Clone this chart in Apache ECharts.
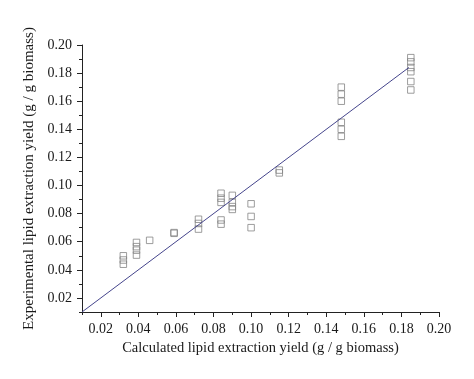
<!DOCTYPE html>
<html>
<head>
<meta charset="utf-8">
<script src="https://cdn.jsdelivr.net/npm/echarts@6/dist/echarts.min.js"></script>
<style>
html,body{margin:0;padding:0;background:#fff;}
#chart{width:474px;height:379px;}
</style>
</head>
<body>
<div id="chart"></div>
<script>
// Tick labels (positions 0.01 ... 0.20, every other one shown)
var tickLabels = ['0.01','0.02','0.03','0.04','0.05','0.06','0.07','0.08','0.09','0.10',
                  '0.11','0.12','0.13','0.14','0.15','0.16','0.17','0.18','0.19','0.20'];

// Calculated (x) vs experimental (y) lipid extraction yield
var calculated = [
  0.032, 0.032, 0.032,
  0.039, 0.039, 0.039, 0.039,
  0.046,
  0.059, 0.059,
  0.072, 0.072, 0.072,
  0.084, 0.084, 0.084, 0.084, 0.084,
  0.090, 0.090, 0.090, 0.090,
  0.100, 0.100, 0.100,
  0.115, 0.115,
  0.148, 0.148, 0.148, 0.148, 0.148, 0.148,
  0.185, 0.185, 0.185, 0.185, 0.185, 0.185
];
var experimental = [
  0.050, 0.047, 0.044,
  0.0595, 0.0565, 0.054, 0.0505,
  0.061,
  0.0665, 0.066,
  0.076, 0.073, 0.069,
  0.0945, 0.091, 0.088, 0.0755, 0.0725,
  0.093, 0.088, 0.085, 0.083,
  0.087, 0.078, 0.070,
  0.111, 0.109,
  0.170, 0.165, 0.160, 0.145, 0.140, 0.135,
  0.191, 0.188, 0.184, 0.181, 0.174, 0.168
];
// Fitted line end points
var fitX = [0.01, 0.184];
var fitY = [0.01, 0.184];

var scatterData = calculated.map(function (x, i) { return [x, experimental[i]]; });
var lineData = fitX.map(function (x, i) { return [x, fitY[i]]; });

var FONT = '"Liberation Serif", "DejaVu Serif", serif';
var showEven = function (i) { return i % 2 === 1; };

var chart = echarts.init(document.getElementById('chart'), null, {renderer: 'canvas'});
chart.setOption({
  backgroundColor: '#ffffff',
  animation: false,
  grid: {left: 82, right: 35, top: 45, bottom: 67, containLabel: false},
  xAxis: [{
    type: 'value', min: 0.01, max: 0.20, interval: 0.01,
    name: 'Calculated lipid extraction yield (g / g biomass)',
    nameLocation: 'middle', nameGap: 29,
    nameTextStyle: {fontFamily: FONT, fontSize: 14.5, color: '#1a1a1a'},
    axisLine: {show: true, lineStyle: {color: '#222', width: 1}},
    axisTick: {show: true, length: 3, lineStyle: {color: '#222'}},
    axisLabel: {show: false},
    splitLine: {show: false}
  }, {
    type: 'category', data: tickLabels, boundaryGap: false, position: 'bottom',
    axisLine: {show: false},
    axisTick: {show: true, interval: showEven, length: 5, lineStyle: {color: '#222'}},
    axisLabel: {interval: showEven, margin: 10, fontFamily: FONT, fontSize: 14, color: '#1a1a1a'},
    splitLine: {show: false}
  }],
  yAxis: [{
    type: 'value', min: 0.01, max: 0.20, interval: 0.01,
    name: 'Experimental lipid extraction yield (g / g biomass)',
    nameLocation: 'middle', nameGap: 45,
    nameTextStyle: {fontFamily: FONT, fontSize: 15, color: '#1a1a1a'},
    axisLine: {show: true, lineStyle: {color: '#222', width: 1}},
    axisTick: {show: true, length: 3, lineStyle: {color: '#222'}},
    axisLabel: {show: false},
    splitLine: {show: false}
  }, {
    type: 'category', data: tickLabels, boundaryGap: false, position: 'left',
    axisLine: {show: false},
    axisTick: {show: true, interval: showEven, length: 5, lineStyle: {color: '#222'}},
    axisLabel: {interval: showEven, margin: 10, fontFamily: FONT, fontSize: 14, color: '#1a1a1a'},
    splitLine: {show: false}
  }],
  series: [{
    type: 'line', xAxisIndex: 0, yAxisIndex: 0,
    data: lineData, symbol: 'none',
    lineStyle: {color: '#45458c', width: 1}
  }, {
    type: 'scatter', xAxisIndex: 0, yAxisIndex: 0,
    data: scatterData, symbol: 'rect', symbolSize: 6.5,
    itemStyle: {color: 'rgba(0,0,0,0)', borderColor: '#858585', borderWidth: 1}
  }]
});
</script>
</body>
</html>
